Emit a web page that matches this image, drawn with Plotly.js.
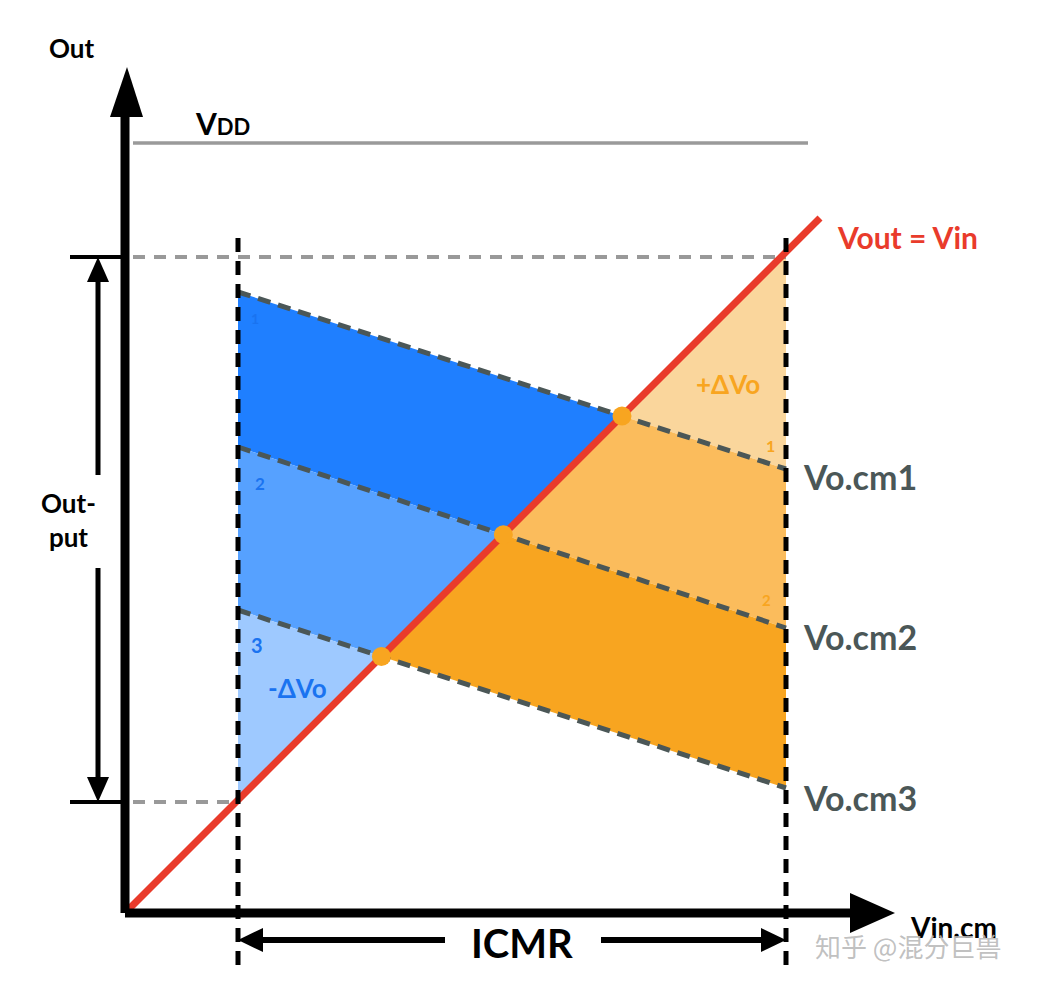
<!DOCTYPE html>
<html><head><meta charset="utf-8">
<script src="https://cdn.plot.ly/plotly-3.0.1.min.js"></script>
<style>html,body{margin:0;padding:0;background:#fff}#chart{width:1045px;height:991px}</style>
</head><body><div id="chart"></div>
<script>
// Units: Vin (horizontal), Vout (vertical), origin at axes crossing
const icmr = [113, 661];          // ICMR bounds on Vin
const outRange = [111, 656];      // output swing bounds on Vout
const vdd = 770;                  // VDD level
const cmNames = ['Vo.cm1', 'Vo.cm2', 'Vo.cm3'];
const cmStart = [621, 466, 303];  // Vout of each CM line at Vin = icmr[0]
const cmEnd = [444, 285, 125];    // Vout of each CM line at Vin = icmr[1]
const unityMax = 695;             // Vout = Vin line extent
const axisTopY = 846, axisRightX = 770;

const blueFills = ['#1f7fff', '#56a1ff', '#9ec9ff'];
const orangeFills = ['#fad69c', '#fbbc5c', '#f8a520'];
const dashGray = '#4b5757';

function cross(i) {
  const k = (cmEnd[i] - cmStart[i]) / (icmr[1] - icmr[0]);
  const b = cmStart[i] - k * icmr[0];
  const x = b / (1 - k);
  return [x, x];
}
const X = [0, 1, 2].map(cross);
const a = icmr[0], c = icmr[1];

const traces = [];
function poly(pts, color) {
  traces.push({x: pts.map(p => p[0]).concat([pts[0][0]]), y: pts.map(p => p[1]).concat([pts[0][1]]),
    mode: 'lines', fill: 'toself', fillcolor: color, line: {width: 0, color: color}, hoverinfo: 'skip'});
}
function line(xs, ys, color, width, dash) {
  traces.push({x: xs, y: ys, mode: 'lines', line: {color: color, width: width, dash: dash || 'solid'}, hoverinfo: 'skip'});
}
// blue regions (left of unity line)
poly([[a, cmStart[0]], X[0], X[1], [a, cmStart[1]]], blueFills[0]);
poly([[a, cmStart[1]], X[1], X[2], [a, cmStart[2]]], blueFills[1]);
poly([[a, cmStart[2]], X[2], [a, a]], blueFills[2]);
// orange regions (right of unity line)
poly([X[0], [c, c], [c, cmEnd[0]]], orangeFills[0]);
poly([X[0], [c, cmEnd[0]], [c, cmEnd[1]], X[1]], orangeFills[1]);
poly([X[1], [c, cmEnd[1]], [c, cmEnd[2]], X[2]], orangeFills[2]);

// VDD and gray dashed guides
line([8, 683], [vdd, vdd], '#9a9a9a', 3.5);
line([8, c], [outRange[1], outRange[1]], '#999999', 4, '12px,9px');
line([8, a], [outRange[0], outRange[0]], '#999999', 4, '12px,9px');

// CM lines
for (let i = 0; i < 3; i++) line([a, c], [cmStart[i], cmEnd[i]], dashGray, 5, '13px,8px');

// unity line
line([0, unityMax], [0, unityMax], '#e93b2b', 7);

// ICMR vertical dashed lines
line([a, a], [-52, 683], '#000', 5, '14px,9px');
line([c, c], [-52, 683], '#000', 5, '14px,9px');

// intersection dots
traces.push({x: X.map(p => p[0]), y: X.map(p => p[1]), mode: 'markers',
  marker: {size: 19, color: '#f8a520'}, hoverinfo: 'skip'});

// axes
line([0, 0], [0, 800], '#000', 9);
line([0, 730], [0, 0], '#000', 9);
poly([[-15, 796], [2, axisTopY], [18, 796]], '#000');
poly([[725, 20], [axisRightX, 0], [725, -20]], '#000');

// output double arrow
line([-55, 0], [outRange[1], outRange[1]], '#000', 4);
line([-55, 0], [outRange[0], outRange[0]], '#000', 4);
line([-27, -27], [outRange[1] - 15, 438], '#000', 5);
line([-27, -27], [345, outRange[0] + 15], '#000', 5);
poly([[-38, outRange[1] - 25], [-27, outRange[1]], [-16, outRange[1] - 25]], '#000');
poly([[-38, outRange[0] + 25], [-27, outRange[0]], [-16, outRange[0] + 25]], '#000');

// ICMR double arrow
line([a + 15, 320], [-27, -27], '#000', 6);
line([476, c - 15], [-27, -27], '#000', 6);
poly([[a + 25, -15], [a, -27], [a + 25, -39]], '#000');
poly([[c - 25, -15], [c, -27], [c - 25, -39]], '#000');

const F = 'Lato, "DejaVu Sans", sans-serif';
function ann(text, x, y, size, color, opts) {
  return Object.assign({text: text, x: x, y: y, xref: 'x', yref: 'y', showarrow: false,
    font: {family: F, size: size, color: color, weight: 900}}, opts || {});
}
const annotations = [
  ann('<b>Out</b>', -53, 865, 26, '#000'),
  ann('<b>V<span style="font-size:22px">DD</span></b>', 97, 790, 30, '#000'),
  ann('<b>Vout = Vin</b>', 710, 676, 30, '#e93b2b', {xanchor: 'left'}),
  ann('<b>Out-<br>put</b>', -57, 393, 26, '#000'),
  ann('<b>ICMR</b>', 397, -30, 40, '#000'),
  ann('<b>Vin.cm</b>', 783, -14, 28, '#000', {xanchor: 'left'}),
  ann('知乎 @混分巨兽', 783, -32, 26, 'rgba(175,175,175,0.9)', {font: {family: '"Noto Sans CJK SC", sans-serif', size: 26, color: 'rgba(185,185,185,0.9)'}}),
  ann('<b>1</b>', 130, 595, 14, '#1a73f0'),
  ann('<b>2</b>', 135, 430, 17, '#1a73f0'),
  ann('<b>3</b>', 132, 268, 20, '#1a73f0'),
  ann('<b>-ΔVo</b>', 172, 225, 26, '#1a73f0'),
  ann('<b>+ΔVo</b>', 603, 529, 26, '#f8a520'),
  ann('<b>1</b>', 645, 468, 16, '#f8a520'),
  ann('<b>2</b>', 641, 313, 15, '#f8a520'),
  ann('<b>3</b>', 641, 153, 18, '#f8a520')
];
for (let i = 0; i < 3; i++) annotations.push(ann('<b>' + cmNames[i] + '</b>', 676, [437, 277, 116][i], 34, dashGray, {xanchor: 'left'}));

const layout = {
  width: 1045, height: 991, margin: {l: 0, r: 0, t: 0, b: 0},
  paper_bgcolor: '#fff', plot_bgcolor: '#fff', showlegend: false, hovermode: false,
  xaxis: {range: [-125, 920], visible: false, fixedrange: true},
  yaxis: {range: [-78, 913], visible: false, fixedrange: true},
  annotations: annotations
};
Plotly.newPlot('chart', traces, layout, {staticPlot: true});
</script></body></html>
